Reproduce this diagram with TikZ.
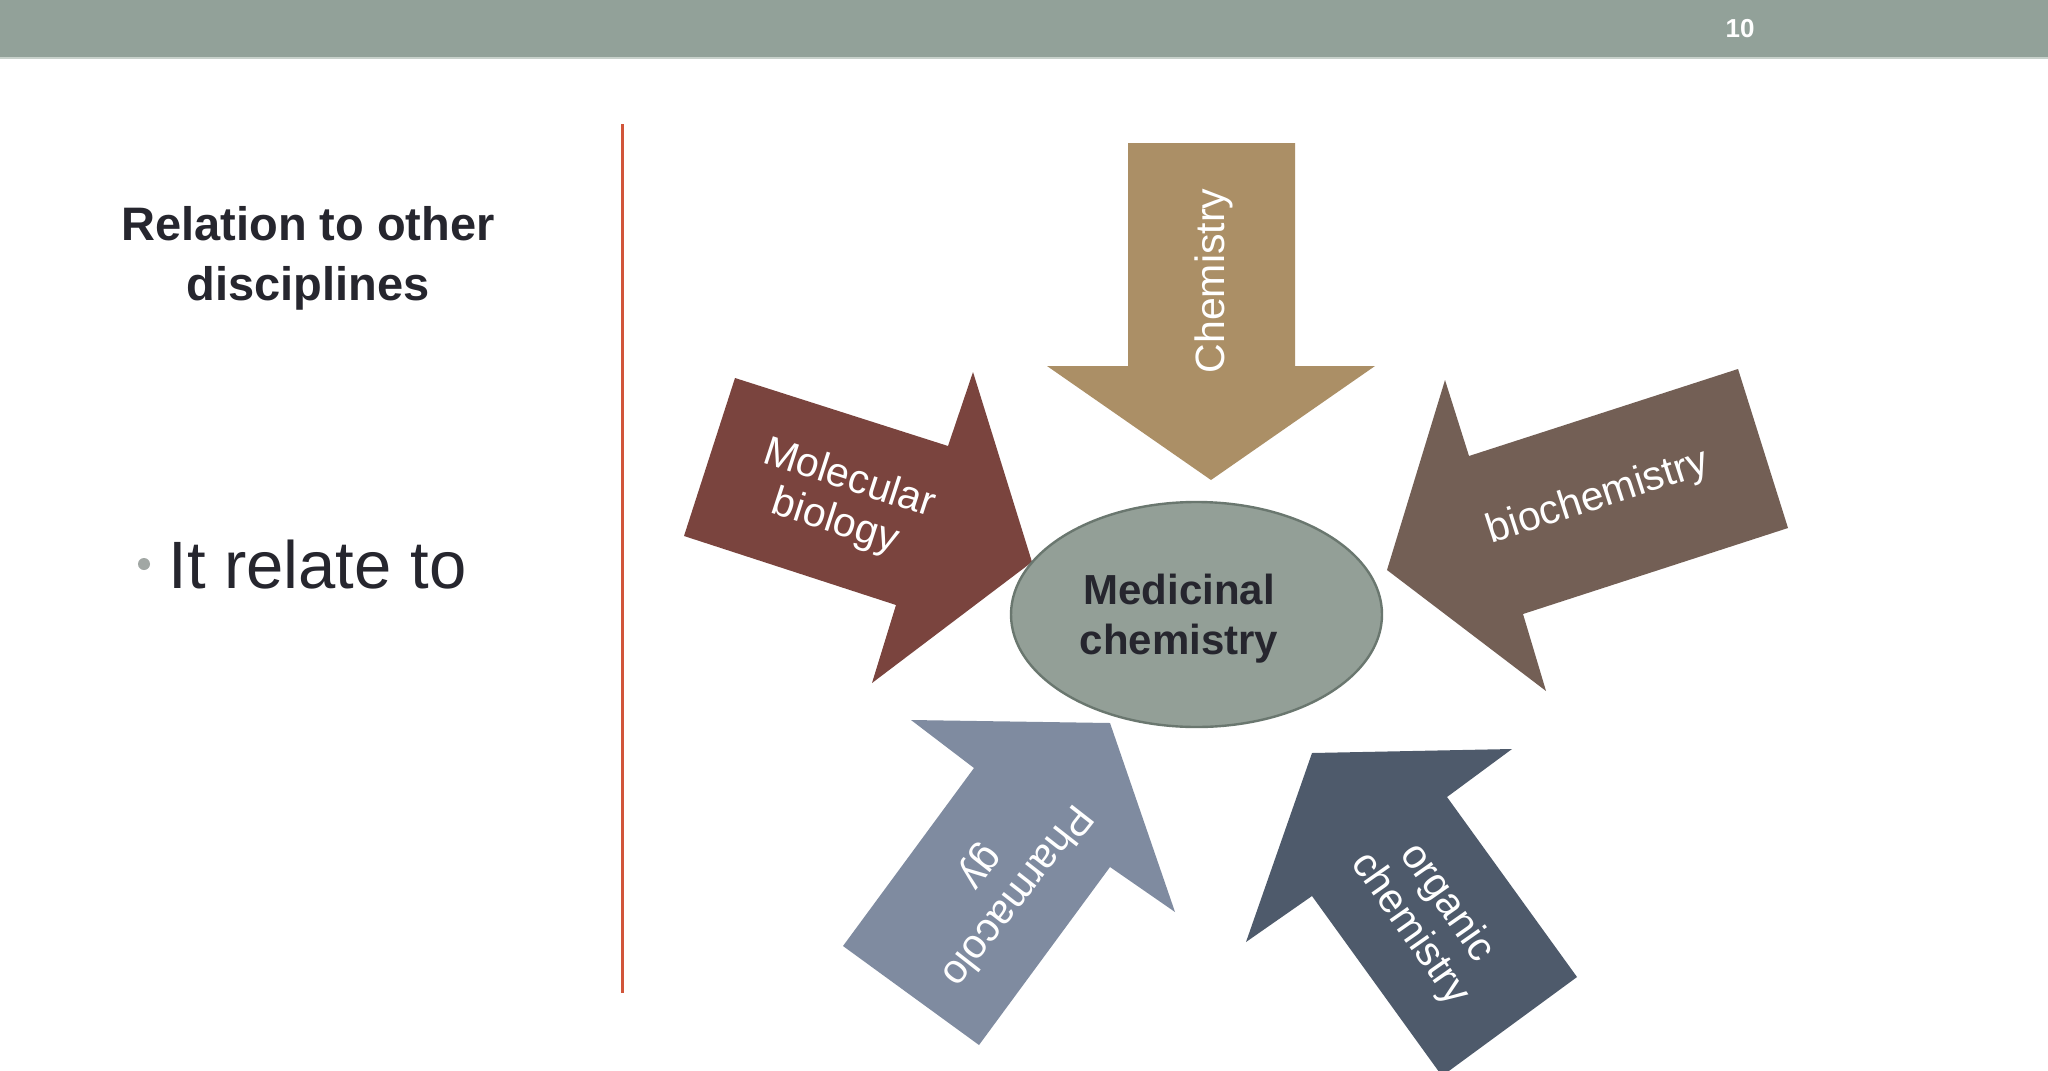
\documentclass[tikz,border=0pt]{standalone}
\usepackage{fontspec}
\setmainfont{Liberation Sans}
\usetikzlibrary{shapes.geometric}

\definecolor{barcol}{RGB}{146,161,153}
\definecolor{barline}{RGB}{200,209,203}
\definecolor{rulecol}{RGB}{209,85,58}
\definecolor{inkcol}{RGB}{38,38,46}
\definecolor{dotcol}{RGB}{161,167,164}
\definecolor{chemcol}{RGB}{171,143,102}
\definecolor{molcol}{RGB}{122,68,62}
\definecolor{biocol}{RGB}{115,95,85}
\definecolor{pharcol}{RGB}{127,139,160}
\definecolor{orgcol}{RGB}{78,90,107}
\definecolor{corefill}{RGB}{147,159,151}
\definecolor{coreline}{RGB}{106,119,111}

\begin{document}
\begin{tikzpicture}[
    x=0.5pt, y=-0.5pt,
    lbl/.style={
      text=white, align=center, inner sep=0pt,
      font=\fontsize{20.5}{22.5}\selectfont
    },
    core/.style={
      ellipse, draw=coreline, line width=1.2pt, fill=corefill,
      minimum width=185.5pt, minimum height=112.5pt, inner sep=0pt
    },
    coretext/.style={
      text=inkcol, align=center, inner sep=0pt,
      font=\fontsize{21}{25}\selectfont\bfseries
    },
  ]
    \useasboundingbox (0,0) rectangle (2048,1070);
    \clip (0,0) rectangle (2048,1070);
    \fill[white] (0,0) rectangle (2048,1070);

    % header bar
    \fill[barcol] (0,0) rectangle (2048,57);
    \draw[barline, line width=1pt] (0,58) -- (2048,58);
    \node[text=white, font=\fontsize{13}{15}\selectfont\bfseries] (pageno) at (1740,29) {10};

    % left column
    \node[text=inkcol, align=center, inner sep=0pt,
      font=\fontsize{23.5}{30}\selectfont\bfseries] (title) at (308,258)
      {Relation to other\\disciplines};
    \fill[dotcol] (144,564) circle[radius=3pt];
    \node[text=inkcol, anchor=base west, inner sep=0pt,
      font=\fontsize{33.5}{40}\selectfont] (relate) at (168,588) {It relate to};
    \draw[rulecol, line width=1.5pt] (622,124) -- (622,993);

    % arrows
    \fill[chemcol] (1128,143) -- (1295,143) -- (1295,366) -- (1375,366)
      -- (1211,480) -- (1047,366) -- (1128,366) -- cycle;
    \fill[molcol] (735,378) -- (948,446) -- (973,372) -- (1032,562)
      -- (872,683) -- (896,605) -- (684,536) -- cycle;
    \fill[biocol] (1387,570) -- (1445,380) -- (1469,456) -- (1738,369)
      -- (1788,528) -- (1523,614) -- (1546,691) -- cycle;
    \fill[pharcol] (1110,723) -- (1175,912) -- (1110,867) -- (979,1045)
      -- (843,946) -- (974,768) -- (911,720) -- cycle;
    \fill[orgcol] (1312,753) -- (1512,749) -- (1447,797) -- (1577,977)
      -- (1442,1076) -- (1312,896) -- (1246,942) -- cycle;

    \node[lbl, rotate=90] (chemlbl) at (1214,281) {Chemistry};
    \node[lbl, rotate=-18] (mollbl) at (842,501) {Molecular\\biology};
    \node[lbl, rotate=18] (biolbl) at (1598,498) {biochemistry};
    \node[lbl, rotate=232] (pharlbl) at (998,881) {Pharmacolo\\gy};
    \node[lbl, rotate=-55] (orglbl) at (1428,916) {organic\\chemistry};

    % centre
    \node[core] (core) at (1196.5,614.5) {};
    \node[coretext] (corelbl) at (1179,619) {Medicinal\\chemistry};
\end{tikzpicture}
\end{document}
